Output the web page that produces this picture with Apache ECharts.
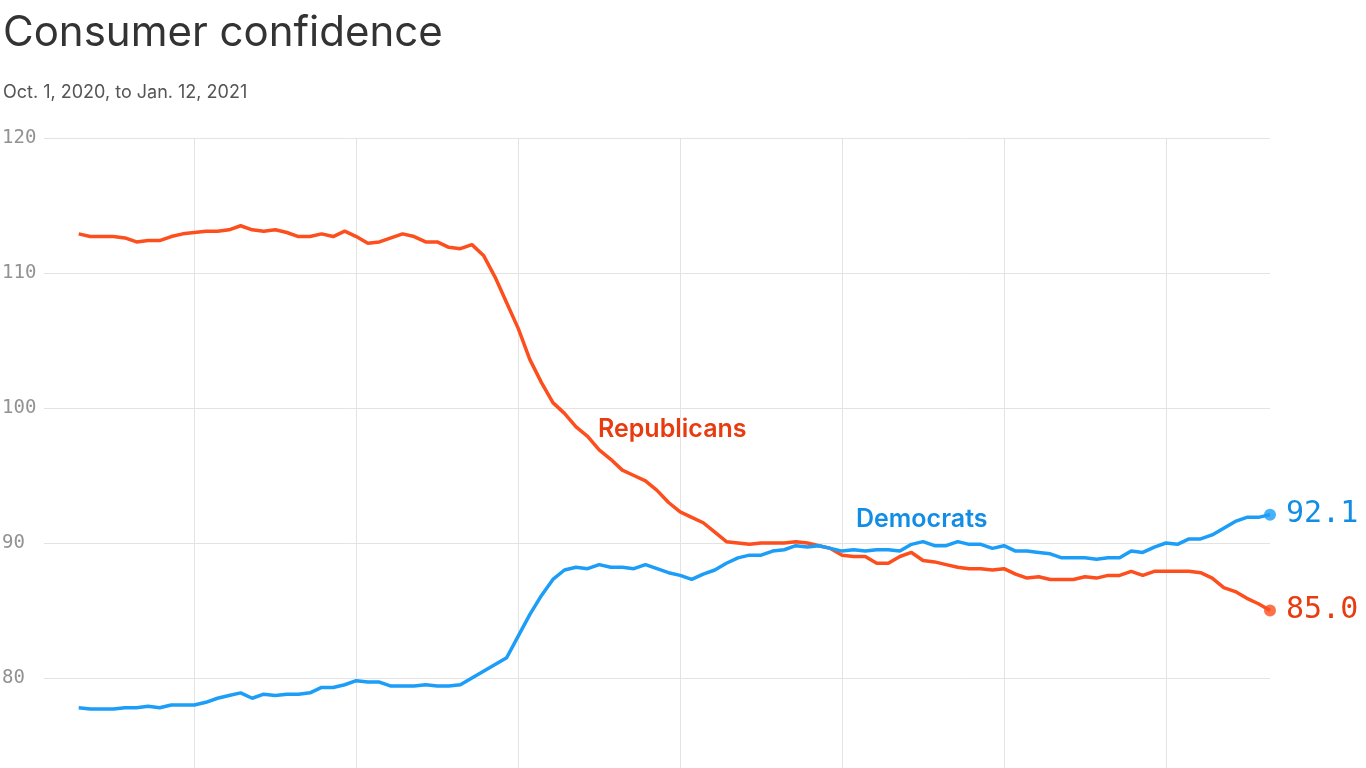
<!DOCTYPE html>
<html>
<head>
<meta charset="utf-8">
<style>
  html, body { margin: 0; padding: 0; background: #fff; }
  #chart { width: 1366px; height: 768px; }
</style>
<script src="https://cdn.jsdelivr.net/npm/echarts@6/dist/echarts.min.js"></script>
</head>
<body>
<div id="chart"></div>
<script>
// 日期：从 9 月 28 日起（留出左侧空白），到 1 月 12 日
var startDate = new Date(2020, 8, 28);
var dayCount = 107;
var leadDays = 3; // 数据从 10 月 1 日开始
var dates = [];
for (var d = 0; d < dayCount; d++) {
  var t = new Date(startDate.getTime() + d * 86400000);
  dates.push((t.getMonth() + 1) + '/' + t.getDate() + '/' + t.getFullYear());
}

// 每两周一条竖线（周日）
var gridDays = [13, 27, 41, 55, 69, 83, 97];

var yTicks = [70, 80, 90, 100, 110, 120];

// 共和党
var republicans = [
  112.9, 112.7, 112.7, 112.7, 112.6, 112.3, 112.4, 112.4, 112.7, 112.9,
  113.0, 113.1, 113.1, 113.2, 113.5, 113.2, 113.1, 113.2, 113.0, 112.7,
  112.7, 112.9, 112.7, 113.1, 112.7, 112.2, 112.3, 112.6, 112.9, 112.7,
  112.3, 112.3, 111.9, 111.8, 112.1, 111.3, 109.7, 107.8, 105.9, 103.6,
  101.9, 100.4, 99.6, 98.6, 97.9, 96.9, 96.2, 95.4, 95.0, 94.6,
  93.9, 93.0, 92.3, 91.9, 91.5, 90.8, 90.1, 90.0, 89.9, 90.0,
  90.0, 90.0, 90.1, 90.0, 89.8, 89.6, 89.1, 89.0, 89.0, 88.5,
  88.5, 89.0, 89.3, 88.7, 88.6, 88.4, 88.2, 88.1, 88.1, 88.0,
  88.1, 87.7, 87.4, 87.5, 87.3, 87.3, 87.3, 87.5, 87.4, 87.6,
  87.6, 87.9, 87.6, 87.9, 87.9, 87.9, 87.9, 87.8, 87.4, 86.7,
  86.4, 85.9, 85.5, 85.0
];

// 民主党
var democrats = [
  77.8, 77.7, 77.7, 77.7, 77.8, 77.8, 77.9, 77.8, 78.0, 78.0,
  78.0, 78.2, 78.5, 78.7, 78.9, 78.5, 78.8, 78.7, 78.8, 78.8,
  78.9, 79.3, 79.3, 79.5, 79.8, 79.7, 79.7, 79.4, 79.4, 79.4,
  79.5, 79.4, 79.4, 79.5, 80.0, 80.5, 81.0, 81.5, 83.1, 84.7,
  86.1, 87.3, 88.0, 88.2, 88.1, 88.4, 88.2, 88.2, 88.1, 88.4,
  88.1, 87.8, 87.6, 87.3, 87.7, 88.0, 88.5, 88.9, 89.1, 89.1,
  89.4, 89.5, 89.8, 89.7, 89.8, 89.6, 89.4, 89.5, 89.4, 89.5,
  89.5, 89.4, 89.9, 90.1, 89.8, 89.8, 90.1, 89.9, 89.9, 89.6,
  89.8, 89.4, 89.4, 89.3, 89.2, 88.9, 88.9, 88.9, 88.8, 88.9,
  88.9, 89.4, 89.3, 89.7, 90.0, 89.9, 90.3, 90.3, 90.6, 91.1,
  91.6, 91.9, 91.9, 92.1
];

var redLine = '#fd4e1e';
var redText = '#e83c10';
var blueLine = '#1c9ef8';
var blueText = '#128de6';

function padFront(arr) {
  var out = [];
  for (var i = 0; i < leadDays; i++) out.push(null);
  return out.concat(arr);
}

function lastPoint(arr) {
  return [[dates[dayCount - 1], arr[arr.length - 1]]];
}

var chart = echarts.init(document.getElementById('chart'));

var option = {
  animation: false,
  title: {
    text: 'Consumer confidence',
    subtext: 'Oct. 1, 2020, to Jan. 12, 2021',
    left: -2,
    top: 7,
    itemGap: 30,
    textStyle: {
      fontFamily: 'Inter',
      fontWeight: 'normal',
      fontSize: 42,
      color: '#333'
    },
    subtextStyle: {
      fontFamily: 'Inter',
      fontSize: 18,
      color: '#555'
    }
  },
  grid: {
    left: 44,
    right: 96,
    top: 138,
    height: 675,
    outerBoundsMode: 'none'
  },
  xAxis: {
    type: 'category',
    data: dates,
    boundaryGap: false,
    axisLine: { show: false },
    axisTick: { show: false },
    axisLabel: { show: false },
    splitLine: {
      show: true,
      interval: function (index) {
        return gridDays.indexOf(index) !== -1;
      },
      lineStyle: { color: '#e3e3e3', width: 1 }
    }
  },
  yAxis: {
    type: 'value',
    min: yTicks[0],
    max: yTicks[yTicks.length - 1],
    interval: 10,
    axisLine: { show: false },
    axisTick: { show: false },
    axisLabel: {
      align: 'left',
      margin: 42,
      fontFamily: 'DejaVu Sans Mono',
      fontSize: 19,
      color: '#929292'
    },
    splitLine: {
      lineStyle: { color: '#e3e3e3', width: 1 }
    }
  },
  series: [
    {
      name: 'Republicans',
      type: 'line',
      data: padFront(republicans),
      symbol: 'none',
      lineStyle: { color: redLine, width: 3.5 },
      endLabel: {
        show: true,
        distance: 16,
        formatter: function (p) { return p.value.toFixed(1); },
        fontFamily: 'DejaVu Sans Mono',
        fontSize: 30,
        color: redText
      }
    },
    {
      name: 'Democrats',
      type: 'line',
      data: padFront(democrats),
      symbol: 'none',
      lineStyle: { color: blueLine, width: 3.5 },
      endLabel: {
        show: true,
        distance: 16,
        formatter: function (p) { return p.value.toFixed(1); },
        fontFamily: 'DejaVu Sans Mono',
        fontSize: 30,
        color: blueText
      }
    },
    {
      type: 'scatter',
      data: lastPoint(republicans),
      symbolSize: 12,
      itemStyle: { color: redLine },
      silent: true
    },
    {
      type: 'scatter',
      data: lastPoint(democrats),
      symbolSize: 12,
      itemStyle: { color: blueLine },
      silent: true
    }
  ],
  graphic: [
    {
      type: 'text',
      left: 598,
      top: 417,
      style: {
        text: 'Republicans',
        fontFamily: 'Inter',
        fontWeight: 600,
        fontSize: 25,
        fill: redText
      }
    },
    {
      type: 'text',
      left: 856,
      top: 507,
      style: {
        text: 'Democrats',
        fontFamily: 'Inter',
        fontWeight: 600,
        fontSize: 25,
        fill: blueText
      }
    }
  ]
};

chart.setOption(option);
</script>
</body>
</html>
